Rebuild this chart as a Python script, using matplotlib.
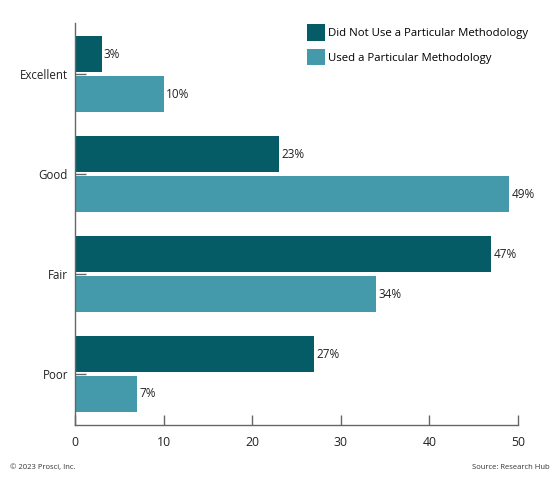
import matplotlib
matplotlib.use("Agg")
import matplotlib.pyplot as plt
import numpy as np

categories = ["Excellent", "Good", "Fair", "Poor"]
did_not_use = [3, 23, 47, 27]
used = [10, 49, 34, 7]
series_names = ["Did Not Use a Particular Methodology", "Used a Particular Methodology"]
x_ticks = [0, 10, 20, 30, 40, 50]

dark = "#055b66"
light = "#4499aa"

plt.rcParams['font.family'] = ['Open Sans', 'DejaVu Sans']

fig = plt.figure(figsize=(5.6, 4.8), dpi=100)
ax = fig.add_axes([0.134, 0.1146, 0.791, 0.8374])

y = np.arange(len(categories))
h = 0.36
off = 0.2
b1 = ax.barh(y - off, did_not_use, height=h, color=dark, label=series_names[0])
b2 = ax.barh(y + off, used, height=h, color=light, label=series_names[1])

for bars, vals in ((b1, did_not_use), (b2, used)):
    for bar, v in zip(bars, vals):
        ax.text(bar.get_width() + 0.25, bar.get_y() + bar.get_height() / 2,
                f"{v}%", va="center", ha="left", fontsize=8.5, color="#222222")

ax.set_ylim(3.51, -0.51)
ax.set_xlim(0, 50)
ax.set_yticks(y)
ax.set_yticklabels(categories)
ax.set_xticks(x_ticks)

for s in ("top", "right"):
    ax.spines[s].set_visible(False)
for s in ("left", "bottom"):
    ax.spines[s].set_color("#666666")
    ax.spines[s].set_linewidth(1.0)

ax.tick_params(axis="y", direction="in", length=8, width=1, color="#666666",
               labelsize=8.3, pad=5, labelcolor="#222222")
ax.tick_params(axis="x", direction="in", length=7, width=1, color="#666666",
               labelsize=8.8, pad=8, labelcolor="#222222")

fig.legend(handles=[b1, b2], labels=series_names, loc="upper left",
           bbox_to_anchor=(307 / 560, 1 - 24 / 480), frameon=False, fontsize=8.2,
           handlelength=1.55, handleheight=1.9, handletextpad=0.3, labelspacing=0.68,
           borderaxespad=0, borderpad=0)

fig.text(0.018, 0.027, "© 2023 Prosci, Inc.", fontsize=5.5, color="#333333", ha="left", va="center")
fig.text(0.982, 0.027, "Source: Research Hub", fontsize=5.5, color="#333333", ha="right", va="center")

fig.savefig("out.png", dpi=100)
